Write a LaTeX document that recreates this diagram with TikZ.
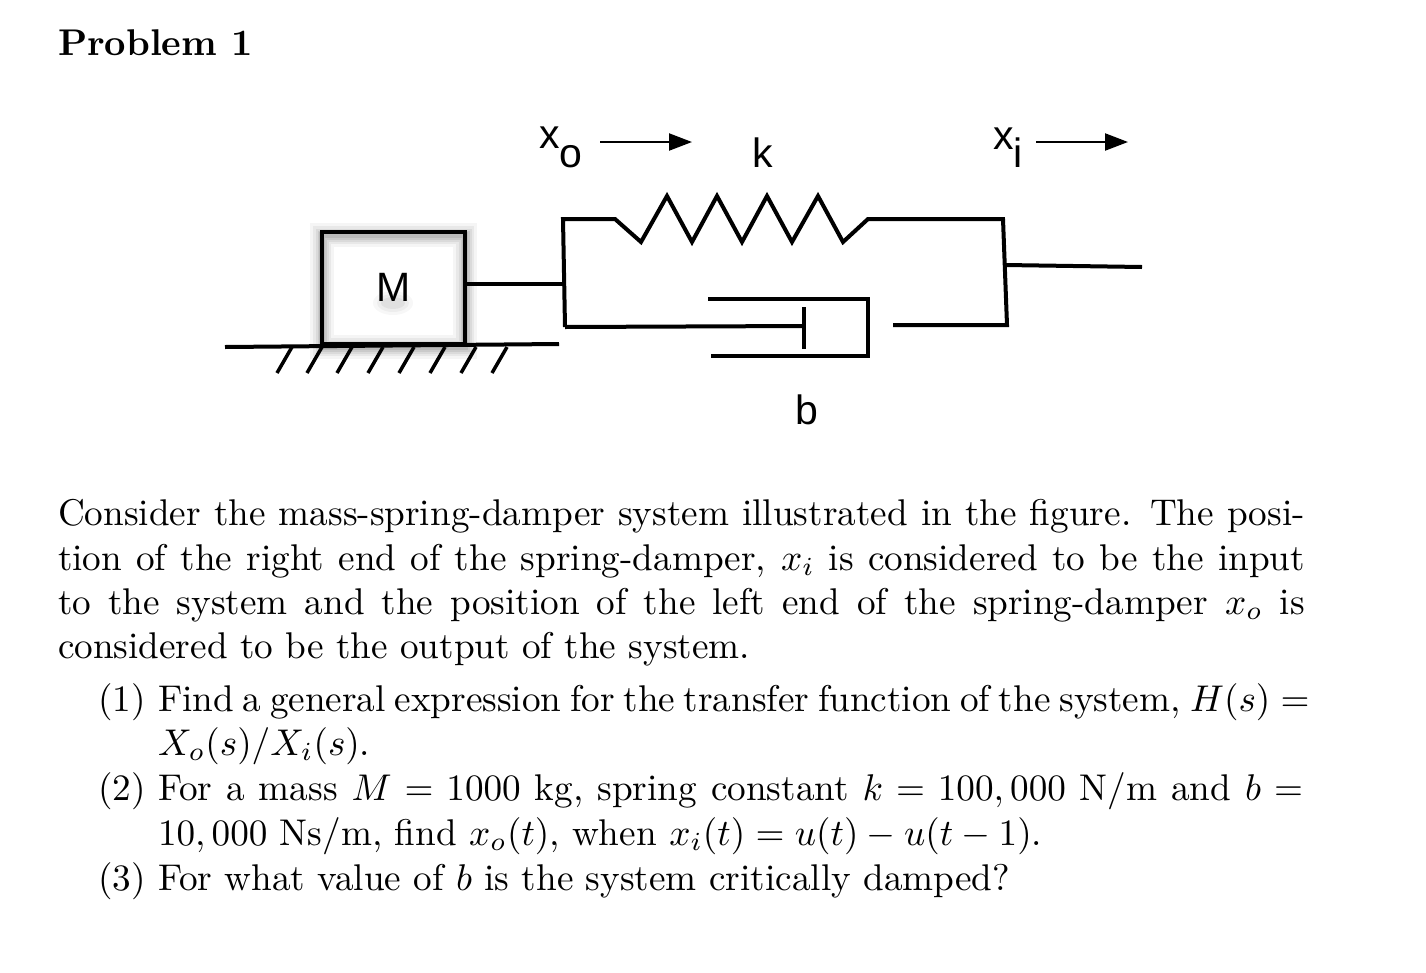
\documentclass[tikz,border=0pt]{standalone}
\usepackage{fontspec}
\newfontfamily\labfont{Liberation Sans}
\usetikzlibrary{arrows.meta}
\newcommand\jline[2]{\scalebox{3.72}{\makebox[#1][s]{#2}}}
\newcommand\nline[1]{\scalebox{3.72}{#1}}
\tikzset{
  txt/.style={anchor=base west, inner sep=0pt, outer sep=0pt},
  lab/.style={inner sep=0pt, font=\labfont\fontsize{41}{41}\selectfont},
  heavy/.style={line width=4pt, line join=miter},
  hatch/.style={line width=3.5pt},
  motion/.style={line width=2.2pt, -{Triangle[length=23pt,width=17pt]}},
}
\begin{document}
\begin{tikzpicture}[x=1pt,y=-1pt]
\useasboundingbox (0,0) rectangle (1426,972);
\fill[white] (0,0) rectangle (1426,972);

% title
\node[txt] (title) at (58,55) {\nline{\bfseries Problem 1}};

% ---------- figure ----------
% shadow of mass box
\foreach \w/\o in {24/0.04,18/0.05,13/0.06,9/0.07,6/0.08} {
  \draw[line width=\w pt, black, opacity=\o] (322,235) rectangle (465,347);
}
% soft shadow under the letter M
\foreach \rx/\ry/\o in {20/12/0.03,16/9/0.04,12/6/0.05} {
  \fill[black, opacity=\o] (393,303) ellipse [x radius=\rx pt, y radius=\ry pt];
}
\node[heavy, draw, minimum width=143pt, minimum height=112pt, lab] (mass) at (393.5,287.5) {M};

% ground
\coordinate (g1) at (225,347);
\coordinate (g2) at (559,344);
\draw[heavy] (g1) -- (g2);
\foreach \x in {277,307,337,368,399,430,461,492} {
  \draw[hatch] (\x,373) -- ++(15,-26);
}

% connection mass -> frame
\coordinate (fl) at (564,284);
\draw[heavy] ([yshift=3.5pt]mass.east) -- (fl);

% left frame + spring + right frame
\coordinate (ftl) at (563,219);
\coordinate (fbl) at (565,327);
\coordinate (ftr) at (1003,219);
\coordinate (fbr) at (1007,325);
\draw[heavy] (fbl) -- (ftl) -- (615,219) -- (641,242) -- (667,196) -- (692,242)
  -- (717,196) -- (742,242) -- (767,196) -- (792,242) -- (818,196) -- (843,242)
  -- (868,219) -- (ftr) -- (fbr) -- (893,325);

% damper: rod and piston
\coordinate (pist) at (804,326);
\draw[heavy] (fbl) -- (pist);
\draw[heavy] (804,307) -- (804,349);
% damper cylinder
\draw[heavy] (708,299) -- (868,299) -- (868,356) -- (711,356);

% output rod
\coordinate (out1) at (1005,265);
\coordinate (out2) at (1142,267);
\draw[heavy] (out1) -- (out2);

% labels
\node[lab, anchor=base west] (xo) at (539,148) {x\raisebox{-19pt}{o}};
\node[lab, anchor=base west] (xi) at (993,149) {x\raisebox{-18pt}{i}};
\node[lab] (k) at (763,153) {k};
\node[lab] (b) at (807,410) {b};

\coordinate (xoa1) at (600,142);
\coordinate (xoa2) at (692,142);
\coordinate (xia1) at (1036,142);
\coordinate (xia2) at (1128,142);
\draw[motion] (xoa1) -- (xoa2);
\draw[motion] (xia1) -- (xia2);

% ---------- text ----------
\node[txt] (l1) at (58,525) {\jline{335.2pt}{Consider the mass-spring-damper system illustrated in the figure. The posi-}};
\node[txt] (l2) at (58,570) {\jline{335.2pt}{tion of the right end of the spring-damper, $x_i$ is considered to be the input}};
\node[txt] (l3) at (58,614) {\jline{335.2pt}{to the system and the position of the left end of the spring-damper $x_o$ is}};
\node[txt] (l4) at (58,658) {\nline{considered to be the output of the system.}};

\node[txt] (i1) at (98,711) {\nline{(1)}};
\node[txt] (l5) at (158,711) {\jline{309.6pt}{Find a general expression for the transfer function of the system, $H(s) =$}};
\node[txt] (l6) at (158,755) {\nline{$X_o(s)/X_i(s)$.}};
\node[txt] (i2) at (98,800) {\nline{(2)}};
\node[txt] (l7) at (158,800) {\jline{307.8pt}{For a mass $M = 1000$ kg, spring constant $k = 100,000$ N/m and $b =$}};
\node[txt] (l8) at (158,845) {\nline{$10,000$ Ns/m, find $x_o(t)$, when $x_i(t) = u(t) - u(t-1)$.}};
\node[txt] (i3) at (98,890) {\nline{(3)}};
\node[txt] (l9) at (158,890) {\nline{For what value of $b$ is the system critically damped?}};
\end{tikzpicture}
\end{document}
